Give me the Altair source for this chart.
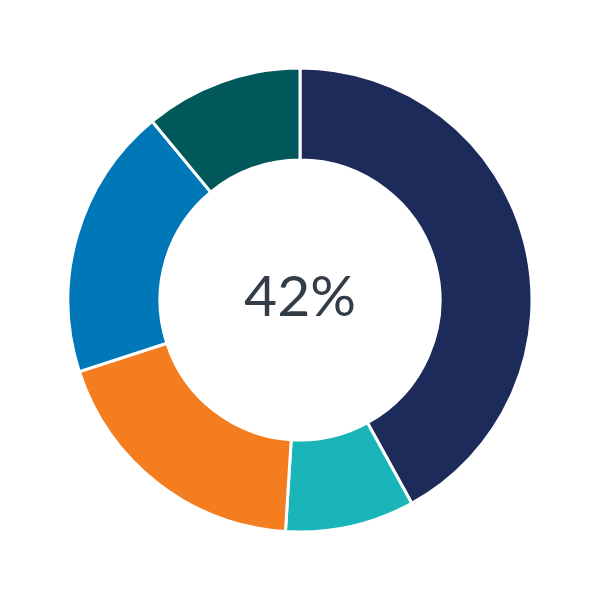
import altair as alt
import pandas as pd

categories = ["A", "B", "C", "D", "E"]
values = [42, 9, 19, 19, 11]
colors = ["#1c2b5a", "#1ab5b8", "#f47d20", "#0077b6", "#00585a"]
center_label = "42%"

df = pd.DataFrame({"cat": categories, "value": values, "idx": list(range(len(values)))})

arc = alt.Chart(df).mark_arc(innerRadius=140, outerRadius=232, stroke="white", strokeWidth=3).encode(
    theta=alt.Theta("value:Q", stack=True),
    color=alt.Color("cat:N", scale=alt.Scale(domain=categories, range=colors), legend=None),
    order=alt.Order("idx:Q", sort="ascending"),
)

text = alt.Chart(pd.DataFrame({"t": [center_label]})).mark_text(
    font="Lato", fontSize=57, color="#333d47", baseline="middle", align="center"
).encode(text="t:N", x=alt.value(292), y=alt.value(291))

chart = alt.layer(arc, text).properties(
    width=584, height=584, padding=0, autosize=alt.AutoSizeParams(type="none")
).configure_view(stroke=None)

chart.save("out.html", embed_options={"renderer": "svg", "actions": False})
